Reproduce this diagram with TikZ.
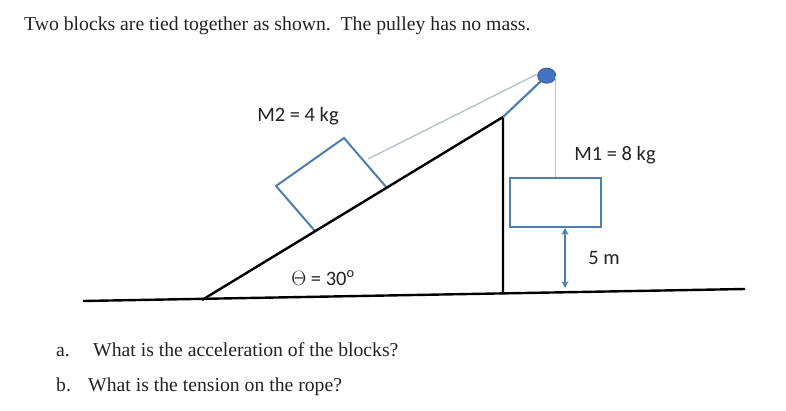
\documentclass[tikz,border=0pt]{standalone}
\usepackage{fontspec}
\setmainfont{Liberation Serif}
\newfontfamily\labelfont{Carlito}
\usetikzlibrary{arrows,arrows.meta,shapes.geometric}
\definecolor{blockblue}{HTML}{4F7FAE}
\definecolor{ropegrey}{HTML}{B9C6D2}
\definecolor{pulleyblue}{HTML}{4472C4}
\definecolor{inktext}{HTML}{222222}

\begin{document}
\begin{tikzpicture}[x=1pt, y=-1pt, > = {Stealth[length=7pt,width=7pt]},
    question/.style = {anchor=base west, inner sep=0pt, text=inktext, font=\fontsize{19.7}{22}\selectfont},
    dimlabel/.style = {inner sep=0pt, text=inktext, font=\labelfont\fontsize{20.5}{22}\selectfont},
    block/.style = {draw=blockblue, line width=2pt, line join=miter},
    rope/.style = {draw=ropegrey, line width=1.5pt},
    solid/.style = {draw=black, line width=2.4pt}]

    \useasboundingbox (0,0) rectangle (786,411);

    % blocks
    \coordinate (m2a) at (315,231);
    \coordinate (m2b) at (276,186);
    \coordinate (m2c) at (344,138);
    \coordinate (m2d) at (387,188);
    \coordinate (m2rope) at (368,159);
    \draw[block] (m2a) -- (m2b) -- (m2c) -- (m2d);
    \node[draw=blockblue, line width=2pt, minimum width=91pt, minimum height=49pt, inner sep=0pt] (m1) at (555.5,202.5) {};

    % ground and incline
    \coordinate (gl) at (83,301);
    \coordinate (gr) at (745,289);
    \coordinate (foot) at (202,300);
    \coordinate (peak) at (503,117);
    \coordinate (base) at (503,294);
    \draw[solid] (gl) -- (gr);
    \draw[solid, line join=miter] (foot) -- (peak) -- (base);

    % pulley
    \node[ellipse, draw=blockblue!80!black, fill=pulleyblue, line width=1pt, minimum width=18pt, minimum height=15pt, inner sep=0pt] (pulley) at (546.7,75.7) {};
    \draw[blockblue, line width=2.2pt] (peak) -- (pulley);

    % ropes
    \draw[rope] (m2rope) -- (pulley.170);
    \draw[rope] (m1.north) -- (m1.north |- pulley.east);

    % drop height
    \coordinate (droptop) at (565,228);
    \coordinate (dropbot) at (565,288);
    \draw[<->, blockblue, line width=1.6pt] (droptop) -- (dropbot);

    % labels
    \node[dimlabel] (m2label) at (298,116) {M2 = 4 kg};
    \node[dimlabel] (m1label) at (615,155) {M1 = 8 kg};
    \node[dimlabel] (droplabel) at (604,258) {5 m};
    \node[dimlabel] (anglelabel) at (323,278) {$\Theta$ = 30\textsuperscript{o}};

    % question text
    \node[question] (intro) at (24,31) {Two blocks are tied together as shown.\ \ The pulley has no mass.};
    \node[question] (qa) at (56,356) {a.};
    \node[question] (qatext) at (93,356) {What is the acceleration of the blocks?};
    \node[question] (qb) at (56,391) {b.};
    \node[question] (qbtext) at (88,391) {What is the tension on the rope?};

\end{tikzpicture}
\end{document}
